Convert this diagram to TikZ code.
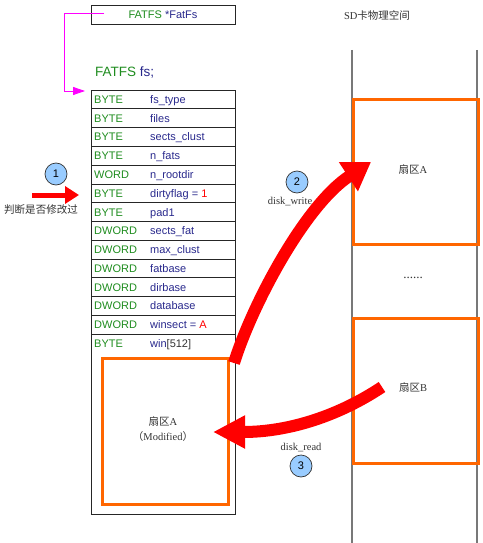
\documentclass[tikz,border=0pt]{standalone}
\usepackage{fontspec}
\setmainfont{Liberation Serif}
\setsansfont{Liberation Sans}
\newfontfamily\cjk{Noto Sans CJK SC}
\usetikzlibrary{arrows.meta}
\definecolor{tgreen}{RGB}{30,140,30}
\definecolor{tblue}{RGB}{40,40,140}
\definecolor{sorange}{RGB}{255,102,0}
\definecolor{cblue}{RGB}{153,204,255}
\definecolor{sdgray}{RGB}{120,120,120}
\definecolor{magline}{RGB}{255,0,255}
\tikzset{
  rowbox/.style={draw=black!85, line width=0.7pt, minimum width=144pt, minimum height=18.77pt, inner sep=0pt},
  typetext/.style={anchor=base west, inner sep=0pt, text=tgreen, font=\sffamily\fontsize{11}{13}\selectfont},
  nametext/.style={anchor=base west, inner sep=0pt, text=tblue, font=\sffamily\fontsize{11}{13}\selectfont},
  sector/.style={draw=sorange, line width=2.6pt, inner sep=0pt},
  numcircle/.style={circle, draw=black!80, fill=cblue, line width=0.7pt, minimum size=22pt, inner sep=0pt, font=\sffamily\fontsize{11}{13}\selectfont},
  serifl/.style={inner sep=0pt, font=\fontsize{10.5}{12.5}\selectfont, text=black!80},
  bigarrow/.style={draw=red, line width=12pt},
}
\begin{document}
\begin{tikzpicture}[x=1pt,y=-1pt]
\useasboundingbox (0,0) rectangle (482,543);
% top pointer box
\node[draw=black!85, line width=0.8pt, minimum width=144pt, minimum height=19pt, anchor=north west, inner sep=0pt] (ptr) at (91,5) {};
\node[inner sep=0pt, font=\sffamily\fontsize{11}{13}\selectfont] (ptrtext) at (163,14.5) {\textcolor{tgreen}{FATFS} \textcolor{tblue}{*FatFs}};
\node[anchor=west, inner sep=0pt, font=\sffamily\fontsize{13.5}{15}\selectfont] (fsname) at (95,72) {\textcolor{tgreen}{FATFS} \textcolor{tblue}{fs;}};
% table
\node[draw=black!85, line width=0.8pt, minimum width=144pt, minimum height=424pt, anchor=north west, inner sep=0pt] (tab) at (91,90) {};
\foreach \i/\t/\n in {1/BYTE/fs\_type, 2/BYTE/files, 3/BYTE/sects\_clust, 4/BYTE/n\_fats, 5/WORD/n\_rootdir, 6/BYTE/dirtyflag = \textcolor{red}{1}, 7/BYTE/pad1, 8/DWORD/sects\_fat, 9/DWORD/max\_clust, 10/DWORD/fatbase, 11/DWORD/dirbase, 12/DWORD/database, 13/DWORD/winsect = \textcolor{red}{A}}{
  \node[rowbox] (r\i) at (163,{90+(\i-0.5)*18.77}) {};
  \node[typetext] (t\i) at (94,{90+(\i-0.5)*18.77+4}) {\t};
  \node[nametext] (n\i) at (150,{90+(\i-0.5)*18.77+4}) {\n};
}
\node[typetext] (t14) at (94,{90+13.5*18.77+4}) {BYTE};
\node[nametext] (n14) at (150,{90+13.5*18.77+4}) {win\textcolor{black!80}{[512]}};
% pointer connector
\coordinate (pstart) at (104,13);
\draw[magline, line width=0.8pt, -{Triangle[length=12pt,width=8pt]}] (pstart) -- (64,13) |- ([xshift=-6pt,yshift=-1pt]tab.north west);
% window buffer sector
\node[sector, minimum width=126pt, minimum height=146pt, anchor=north west] (winA) at (101,357) {};
\node[serifl, align=center] (winAtext) at (163,429) {{\cjk 扇区}A\\[2pt]{\cjk （}Modified{\cjk ）}};
% SD card
\node[serifl] (sdtitle) at (377,15) {SD{\cjk 卡物理空间}};
\coordinate (sdl0) at (352,50); \coordinate (sdl1) at (352,543);
\coordinate (sdr0) at (477,50); \coordinate (sdr1) at (477,543);
\draw[sdgray, line width=1.2pt] (sdl0) -- (sdl1);
\draw[sdgray, line width=1.2pt] (sdr0) -- (sdr1);
\node[sector, minimum width=125pt, minimum height=145pt, anchor=north west] (secA) at (352,98) {};
\node[serifl] (secAtext) at (413,170) {{\cjk 扇区}A};
\node[serifl, font=\fontsize{13}{15}\selectfont] (dots) at (413,278) {......};
\node[sector, minimum width=125pt, minimum height=145pt, anchor=north west] (secB) at (352,317) {};
\node[serifl] (secBtext) at (413,388) {{\cjk 扇区}B};
% step 1
\node[numcircle] (c1) at (56,174) {1};
\coordinate (a1s) at (32,195);
\coordinate (a1e) at (79,195);
\draw[red, line width=5pt, -{Triangle[length=14pt,width=17pt]}] (a1s) -- (a1e);
\node[serifl] (c1text) at (41,210) {\cjk 判断是否修改过};
% step 2
\node[numcircle] (c2) at (297,182) {2};
\node[serifl] (c2text) at (290,202) {disk\_write};
\coordinate (a2s) at (234,363);
\coordinate (a2e) at (371,162);
\draw[bigarrow, -{Triangle[length=27pt,width=33pt]}] (a2s) .. controls (252,305) and (305,205) .. (a2e);
% step 3
\node[numcircle] (c3) at (301,466) {3};
\node[serifl] (c3text) at (301,448) {disk\_read};
\coordinate (a3s) at (382,387);
\coordinate (a3e) at (213,432);
\draw[bigarrow, -{Triangle[length=32pt,width=31pt]}] (a3s) .. controls (340,415) and (290,432) .. (a3e);
\end{tikzpicture}
\end{document}
